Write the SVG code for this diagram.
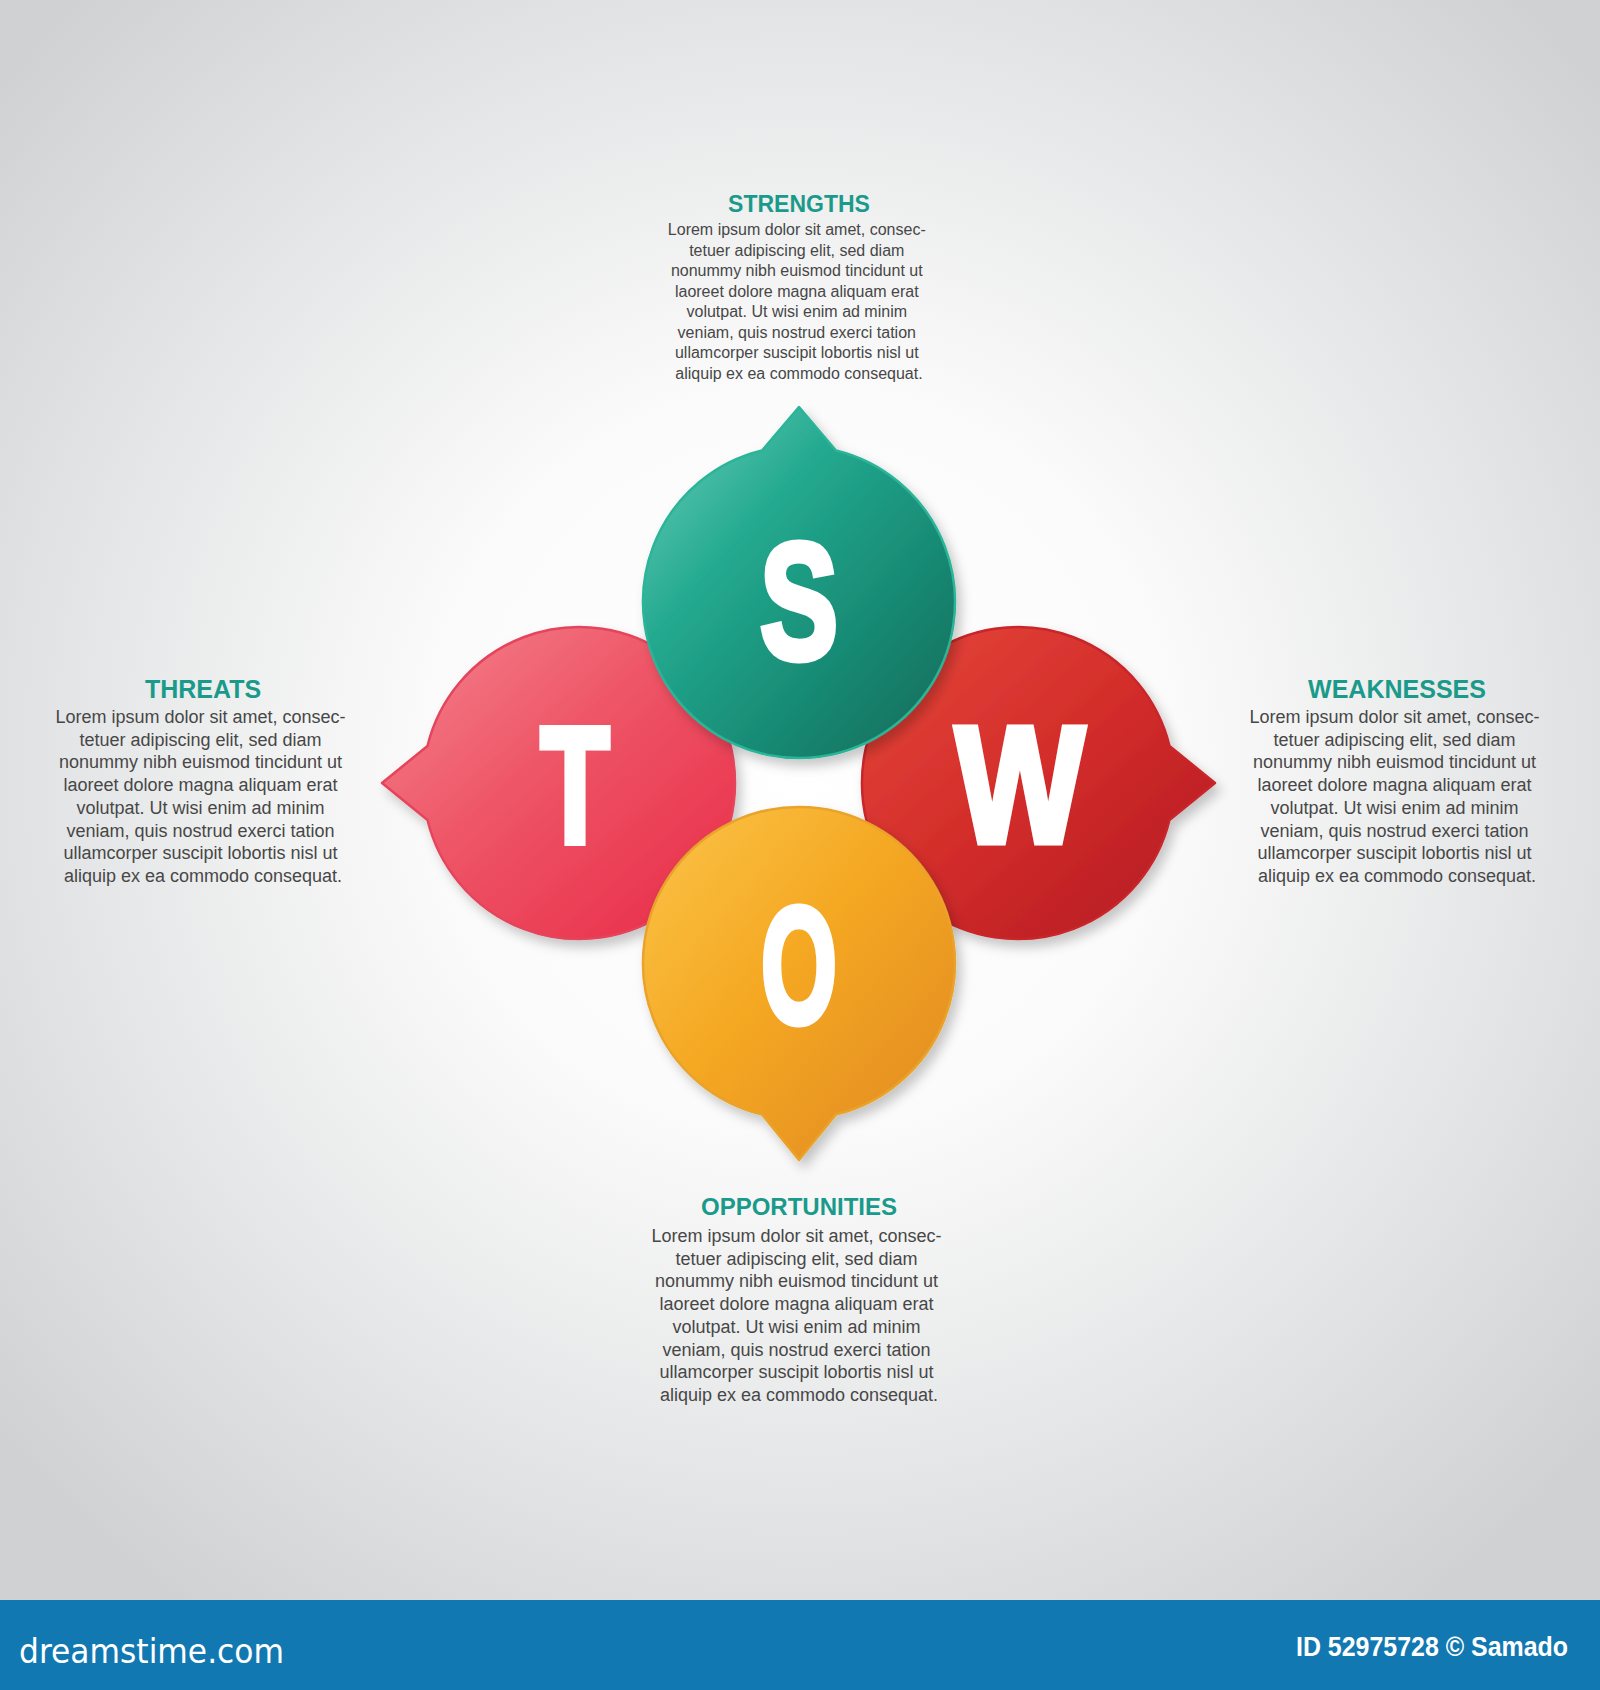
<svg xmlns="http://www.w3.org/2000/svg" width="1600" height="1690" viewBox="0 0 1600 1690">
<defs>
<radialGradient id="bg" cx="800" cy="760" r="1050" gradientUnits="userSpaceOnUse">
<stop offset="0" stop-color="#ffffff"/>
<stop offset="0.35" stop-color="#fbfbfb"/>
<stop offset="0.7" stop-color="#e4e5e6"/>
<stop offset="1" stop-color="#d0d1d3"/>
</radialGradient>
<linearGradient id="gS" x1="0" y1="0" x2="1" y2="1">
<stop offset="0" stop-color="#6fd0bc"/>
<stop offset="0.35" stop-color="#22a98f"/>
<stop offset="1" stop-color="#0e6a58"/>
</linearGradient>
<linearGradient id="gT" x1="0" y1="0" x2="1" y2="1">
<stop offset="0" stop-color="#f4848f"/>
<stop offset="0.45" stop-color="#ee5566"/>
<stop offset="1" stop-color="#e82a47"/>
</linearGradient>
<linearGradient id="gW" x1="0" y1="0" x2="1" y2="1">
<stop offset="0" stop-color="#e6473a"/>
<stop offset="0.5" stop-color="#d22c2a"/>
<stop offset="1" stop-color="#b01822"/>
</linearGradient>
<linearGradient id="gO" x1="0" y1="0" x2="1" y2="1">
<stop offset="0" stop-color="#fbc448"/>
<stop offset="0.45" stop-color="#f5a823"/>
<stop offset="1" stop-color="#df881f"/>
</linearGradient>
<filter id="sh" x="-20%" y="-20%" width="140%" height="140%">
<feDropShadow dx="5" dy="7" stdDeviation="6" flood-color="#000" flood-opacity="0.22"/>
</filter>
</defs>
<style>
.title{font-family:"Liberation Sans",Arial,sans-serif;font-weight:bold;fill:#1a9a8b;text-anchor:middle}
.body{font-family:"Liberation Sans",Arial,sans-serif;fill:#474747;text-anchor:middle}
.letter{font-family:"Liberation Sans",Arial,sans-serif;font-weight:bold;fill:#ffffff;stroke:#ffffff;stroke-width:7;stroke-linejoin:miter;text-anchor:middle;font-size:165px}
.pin{filter:url(#sh)}
</style>
<rect x="0" y="0" width="1600" height="1690" fill="url(#bg)"/>

<g id="connectors"></g>

<g id="node-threats">
<path class="pin" d="M382,783 L427.5,820 A156 156 0 1 0 427.5,746 Z" fill="url(#gT)" stroke="#e4445c" stroke-width="2.5" stroke-linejoin="round"/>
<text class="letter" x="575" y="842" textLength="69" lengthAdjust="spacingAndGlyphs">T</text>
</g>
<g id="node-weaknesses">
<path class="pin" d="M1215,783 L1169.5,746 A156 156 0 1 0 1169.5,820 Z" fill="url(#gW)" stroke="#c8262a" stroke-width="2.5" stroke-linejoin="round"/>
<text class="letter" x="1020" y="842" textLength="129" lengthAdjust="spacingAndGlyphs">W</text>
</g>
<g id="node-strengths">
<path class="pin" d="M799,407 L762,450.5 A156 156 0 1 0 836,450.5 Z" fill="url(#gS)" stroke="#2cb498" stroke-width="2.5" stroke-linejoin="round"/>
<text class="letter" x="799" y="658" textLength="78" lengthAdjust="spacingAndGlyphs">S</text>
</g>
<g id="node-opportunities">
<path class="pin" d="M799,1160 L836,1114.5 A156 156 0 1 0 762,1114.5 Z" fill="url(#gO)" stroke="#eaa32c" stroke-width="2.5" stroke-linejoin="round"/>
<text class="letter" x="799" y="1022" textLength="76" lengthAdjust="spacingAndGlyphs">O</text>
</g>

<g id="text-strengths">
<text class="title" x="799" y="212" font-size="23">STRENGTHS</text>
<text class="body" font-size="16">
<tspan x="799" y="235">Lorem ipsum dolor sit amet, consec-</tspan>
<tspan x="799" y="255.5">tetuer adipiscing elit, sed diam</tspan>
<tspan x="799" y="276">nonummy nibh euismod tincidunt ut</tspan>
<tspan x="799" y="296.5">laoreet dolore magna aliquam erat</tspan>
<tspan x="799" y="317">volutpat. Ut wisi enim ad minim</tspan>
<tspan x="799" y="337.5">veniam, quis nostrud exerci tation</tspan>
<tspan x="799" y="358">ullamcorper suscipit lobortis nisl ut</tspan>
<tspan x="799" y="378.5">aliquip ex ea commodo consequat.</tspan>
</text>
</g>

<g id="text-threats">
<text class="title" x="203" y="698" font-size="25">THREATS</text>
<text class="body" font-size="18">
<tspan x="203" y="723">Lorem ipsum dolor sit amet, consec-</tspan>
<tspan x="203" y="745.7">tetuer adipiscing elit, sed diam</tspan>
<tspan x="203" y="768.4">nonummy nibh euismod tincidunt ut</tspan>
<tspan x="203" y="791.1">laoreet dolore magna aliquam erat</tspan>
<tspan x="203" y="813.8">volutpat. Ut wisi enim ad minim</tspan>
<tspan x="203" y="836.5">veniam, quis nostrud exerci tation</tspan>
<tspan x="203" y="859.2">ullamcorper suscipit lobortis nisl ut</tspan>
<tspan x="203" y="881.9">aliquip ex ea commodo consequat.</tspan>
</text>
</g>

<g id="text-weaknesses">
<text class="title" x="1397" y="698" font-size="25">WEAKNESSES</text>
<text class="body" font-size="18">
<tspan x="1397" y="723">Lorem ipsum dolor sit amet, consec-</tspan>
<tspan x="1397" y="745.7">tetuer adipiscing elit, sed diam</tspan>
<tspan x="1397" y="768.4">nonummy nibh euismod tincidunt ut</tspan>
<tspan x="1397" y="791.1">laoreet dolore magna aliquam erat</tspan>
<tspan x="1397" y="813.8">volutpat. Ut wisi enim ad minim</tspan>
<tspan x="1397" y="836.5">veniam, quis nostrud exerci tation</tspan>
<tspan x="1397" y="859.2">ullamcorper suscipit lobortis nisl ut</tspan>
<tspan x="1397" y="881.9">aliquip ex ea commodo consequat.</tspan>
</text>
</g>

<g id="text-opportunities">
<text class="title" x="799" y="1215" font-size="24">OPPORTUNITIES</text>
<text class="body" font-size="18">
<tspan x="799" y="1242">Lorem ipsum dolor sit amet, consec-</tspan>
<tspan x="799" y="1264.7">tetuer adipiscing elit, sed diam</tspan>
<tspan x="799" y="1287.4">nonummy nibh euismod tincidunt ut</tspan>
<tspan x="799" y="1310.1">laoreet dolore magna aliquam erat</tspan>
<tspan x="799" y="1332.8">volutpat. Ut wisi enim ad minim</tspan>
<tspan x="799" y="1355.5">veniam, quis nostrud exerci tation</tspan>
<tspan x="799" y="1378.2">ullamcorper suscipit lobortis nisl ut</tspan>
<tspan x="799" y="1400.9">aliquip ex ea commodo consequat.</tspan>
</text>
</g>

<g id="footer">
<rect x="0" y="1600" width="1600" height="90" fill="#1278b1"/>
<text x="19" y="1663" font-family="'DejaVu Sans',sans-serif" font-size="34" fill="#ffffff" textLength="265" lengthAdjust="spacingAndGlyphs">dreamstime.com</text>
<text x="1296" y="1656" font-family="'Liberation Sans',Arial,sans-serif" font-weight="bold" font-size="27" fill="#ffffff" textLength="272" lengthAdjust="spacingAndGlyphs">ID 52975728 © Samado</text>
</g>
</svg>
